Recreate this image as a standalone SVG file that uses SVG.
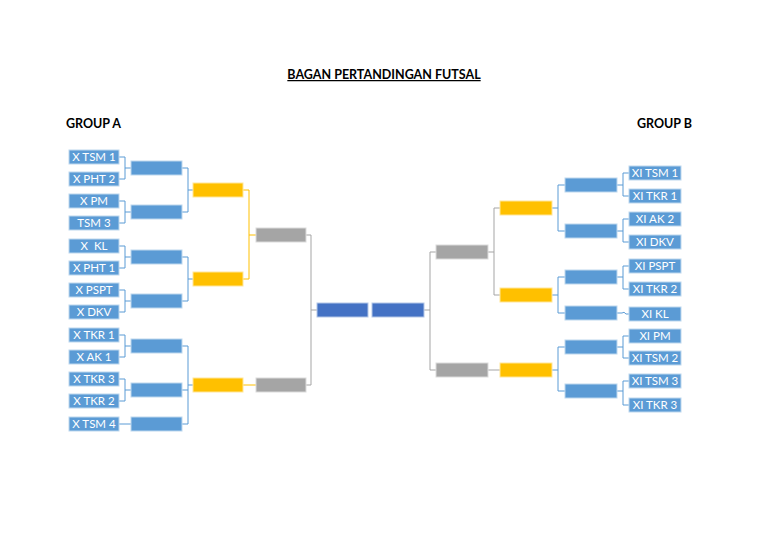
<svg xmlns="http://www.w3.org/2000/svg" width="768" height="543" viewBox="0 0 768 543">
<style>
.t{fill:#5B9BD5;stroke:#BDD7EE;stroke-width:1}
.b{fill:#5B9BD5;stroke:#BDD7EE;stroke-width:1}
.y{fill:#FFC000;stroke:#FFE699;stroke-width:1}
.g{fill:#A5A5A5;stroke:#DBDBDB;stroke-width:1}
.c{fill:#4472C4;stroke:#B4C7E7;stroke-width:1}
.tx{font-family:Lato,"Open Sans",sans-serif;font-size:11.5px;fill:#fff;text-anchor:middle}
.h{font-family:Lato,"Open Sans",sans-serif;font-size:12.5px;font-weight:bold;fill:#000}
.lb{fill:none;stroke:#5B9BD5;stroke-width:1}
.ly{fill:none;stroke:#FFC000;stroke-width:1}
.lg{fill:none;stroke:#A5A5A5;stroke-width:1}
</style>
<rect width="768" height="543" fill="#fff"/>
<g id="titles">
<text class="h" x="384" y="79" text-anchor="middle" text-decoration="underline">BAGAN PERTANDINGAN FUTSAL</text>
<text class="h" x="66" y="128">GROUP A</text>
<text class="h" x="637" y="128">GROUP B</text>
</g>
<g id="connectors">
<path class="lb" d="M119 157H125V179H119M125 168H131M119 201H125V223H119M125 212H131M119 246H125V268H119M125 257H131M119 290H125V312H119M125 301H131M119 335H125V357H119M125 346H131M119 379H125V401H119M125 390H131M119 424H131"/>
<path class="lb" d="M182 168H188V212H182M188 190H193M182 257H188V301H182M188 279H193M182 346H188V424H182M188 385H193M182 390H188"/>
<path class="ly" d="M243 190H249V279H243M249 235H256M243 385H256"/>
<path class="lg" d="M306 235H311V385H306M311 310H317"/>
<path class="lg" d="M424 310H430M436 252H430V370H436"/>
<path class="lg" d="M488 252H494M500 208H494V295H500M488 370H500"/>
<path class="lb" d="M552 208H558M565 185H558V231H565M552 295H558M565 277H558V313H565M552 370H558M565 347H558V391H565"/>
<path class="lb" d="M617 185H623M629 173H623V196H629M617 231H623M629 219H623V242H629M617 277H623M629 266H623V289H629M617 313H622Q624 311 626 314H629M617 347H623M629 336H623V358H629M617 391H623M629 381H623V405H629"/>
</g>
<g id="groupA">
<g id="a1"><rect class="t" x="69" y="150" width="50" height="14"/><text class="tx" x="94" y="161">X TSM 1</text></g>
<g id="a2"><rect class="t" x="69" y="172" width="50" height="14"/><text class="tx" x="94" y="183">X PHT 2</text></g>
<g id="a3"><rect class="t" x="69" y="194" width="50" height="14"/><text class="tx" x="94" y="205">X PM</text></g>
<g id="a4"><rect class="t" x="69" y="216" width="50" height="14"/><text class="tx" x="94" y="227">TSM 3</text></g>
<g id="a5"><rect class="t" x="69" y="239" width="50" height="14"/><text class="tx" x="94" y="250" xml:space="preserve">X  KL</text></g>
<g id="a6"><rect class="t" x="69" y="261" width="50" height="14"/><text class="tx" x="94" y="272">X PHT 1</text></g>
<g id="a7"><rect class="t" x="69" y="283" width="50" height="14"/><text class="tx" x="94" y="294">X PSPT</text></g>
<g id="a8"><rect class="t" x="69" y="305" width="50" height="14"/><text class="tx" x="94" y="316">X DKV</text></g>
<g id="a9"><rect class="t" x="69" y="328" width="50" height="14"/><text class="tx" x="94" y="339">X TKR 1</text></g>
<g id="a10"><rect class="t" x="69" y="350" width="50" height="14"/><text class="tx" x="94" y="361">X AK 1</text></g>
<g id="a11"><rect class="t" x="69" y="372" width="50" height="14"/><text class="tx" x="94" y="383">X TKR 3</text></g>
<g id="a12"><rect class="t" x="69" y="394" width="50" height="14"/><text class="tx" x="94" y="405">X TKR 2</text></g>
<g id="a13"><rect class="t" x="69" y="417" width="50" height="14"/><text class="tx" x="94" y="428">X TSM 4</text></g>
</g>
<g id="roundsA">
<rect class="b" x="131" y="161" width="51" height="14"/>
<rect class="b" x="131" y="205" width="51" height="14"/>
<rect class="b" x="131" y="250" width="51" height="14"/>
<rect class="b" x="131" y="294" width="51" height="14"/>
<rect class="b" x="131" y="339" width="51" height="14"/>
<rect class="b" x="131" y="383" width="51" height="14"/>
<rect class="b" x="131" y="417" width="51" height="14"/>
<rect class="y" x="193" y="183" width="50" height="14"/>
<rect class="y" x="193" y="272" width="50" height="14"/>
<rect class="y" x="193" y="378" width="50" height="14"/>
<rect class="g" x="256" y="228" width="50" height="14"/>
<rect class="g" x="256" y="378" width="50" height="14"/>
</g>
<g id="final">
<rect class="c" x="317" y="303" width="51" height="14"/>
<rect class="c" x="372" y="303" width="52" height="14"/>
</g>
<g id="roundsB">
<rect class="g" x="436" y="245" width="52" height="14"/>
<rect class="g" x="436" y="363" width="52" height="14"/>
<rect class="y" x="500" y="201" width="52" height="14"/>
<rect class="y" x="500" y="288" width="52" height="14"/>
<rect class="y" x="500" y="363" width="52" height="14"/>
<rect class="b" x="565" y="178" width="52" height="14"/>
<rect class="b" x="565" y="224" width="52" height="14"/>
<rect class="b" x="565" y="270" width="52" height="14"/>
<rect class="b" x="565" y="306" width="52" height="14"/>
<rect class="b" x="565" y="340" width="52" height="14"/>
<rect class="b" x="565" y="384" width="52" height="14"/>
</g>
<g id="groupB">
<g id="b1"><rect class="t" x="629" y="166" width="52" height="14"/><text class="tx" x="655" y="177">XI TSM 1</text></g>
<g id="b2"><rect class="t" x="629" y="189" width="52" height="14"/><text class="tx" x="655" y="200">XI TKR 1</text></g>
<g id="b3"><rect class="t" x="629" y="212" width="52" height="14"/><text class="tx" x="655" y="223">XI AK 2</text></g>
<g id="b4"><rect class="t" x="629" y="235" width="52" height="14"/><text class="tx" x="655" y="246">XI DKV</text></g>
<g id="b5"><rect class="t" x="629" y="259" width="52" height="14"/><text class="tx" x="655" y="270">XI PSPT</text></g>
<g id="b6"><rect class="t" x="629" y="282" width="52" height="14"/><text class="tx" x="655" y="293">XI TKR 2</text></g>
<g id="b7"><rect class="t" x="629" y="307" width="52" height="14"/><text class="tx" x="655" y="318">XI KL</text></g>
<g id="b8"><rect class="t" x="629" y="329" width="52" height="14"/><text class="tx" x="655" y="340">XI PM</text></g>
<g id="b9"><rect class="t" x="629" y="351" width="52" height="14"/><text class="tx" x="655" y="362">XI TSM 2</text></g>
<g id="b10"><rect class="t" x="629" y="374" width="52" height="14"/><text class="tx" x="655" y="385">XI TSM 3</text></g>
<g id="b11"><rect class="t" x="629" y="398" width="52" height="14"/><text class="tx" x="655" y="409">XI TKR 3</text></g>
</g>
</svg>
